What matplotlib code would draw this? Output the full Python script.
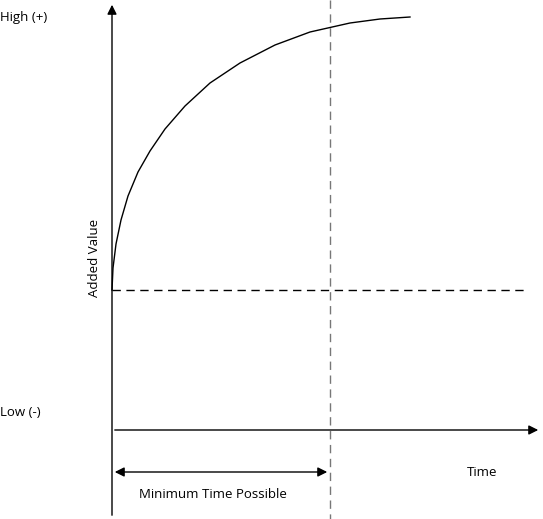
import matplotlib
matplotlib.use("Agg")
import matplotlib.pyplot as plt

# Curve (pixel coords, y downwards)
curve_x = [112, 113, 116, 121, 128, 138, 150, 165, 185, 210, 240, 275, 310, 350, 380, 410]
curve_y = [290, 268, 244, 220, 196, 172, 151, 129, 106, 83, 63, 45, 32, 23, 19, 17]

fig = plt.figure(figsize=(5.43, 5.19), dpi=100)
ax = fig.add_axes([0, 0, 1, 1])
ax.set_xlim(0, 543)
ax.set_ylim(519, 0)
ax.axis("off")

arrow = dict(arrowstyle="-|>", color="black", lw=1, mutation_scale=14)
# axes
ax.annotate("", xy=(112, 2), xytext=(112, 518), arrowprops=arrow)
ax.annotate("", xy=(541, 430), xytext=(112, 430), arrowprops=arrow)

# reference lines
ax.plot([112, 525], [290, 290], ls=(0, (6, 4)), color="black", lw=1)
ax.plot([330, 330], [0, 519], ls=(0, (6, 4)), color="#777777", lw=1)

ax.plot(curve_x, curve_y, color="black", lw=1)

# minimum time span
ax.annotate("", xy=(112, 472), xytext=(330, 472),
            arrowprops=dict(arrowstyle="<|-|>", color="black", lw=1, mutation_scale=14))

fs = 9.5
ax.text(213, 495, "Minimum Time Possible", ha="center", va="center", fontsize=fs, family="Open Sans")
ax.text(482, 472, "Time", ha="center", va="center", fontsize=fs, family="Open Sans")
ax.text(0, 18, "High (+)", ha="left", va="center", fontsize=fs, family="Open Sans")
ax.text(0, 413, "Low (-)", ha="left", va="center", fontsize=fs, family="Open Sans")
ax.text(95, 258, "Added Value", ha="center", va="center", rotation=90, fontsize=fs, family="Open Sans")

fig.savefig("out.png", dpi=100)
